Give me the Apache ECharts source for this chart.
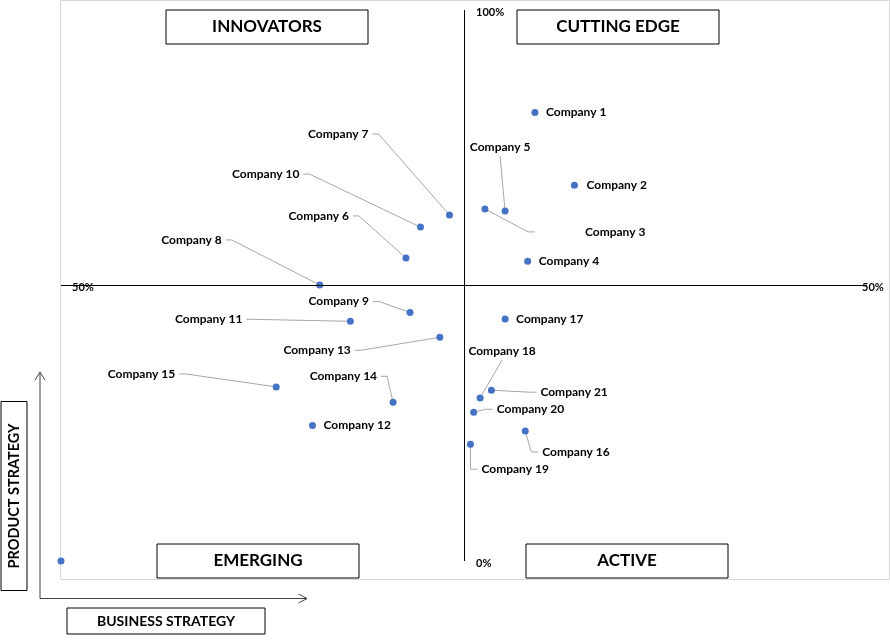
<!DOCTYPE html>
<html lang="en">
<head>
    <meta charset="UTF-8">
    <title>Company positioning quadrant</title>
    <script src="https://cdn.jsdelivr.net/npm/echarts@6/dist/echarts.min.js"></script>
    <style>
        html, body { margin: 0; padding: 0; background: #fff; }
        #chart { width: 890px; height: 641px; }
    </style>
</head>
<body>
    <div id="chart"></div>
    <script>
        // values (percent)
        const companies = [
            'Company 1', 'Company 2', 'Company 3', 'Company 4', 'Company 5', 'Company 6', 'Company 7',
            'Company 8', 'Company 9', 'Company 10', 'Company 11', 'Company 12', 'Company 13', 'Company 14',
            'Company 15', 'Company 16', 'Company 17', 'Company 18', 'Company 19', 'Company 20', 'Company 21', ''
        ];
        const businessStrategy = [58.8, 63.7, 52.6, 57.9, 55.1, 42.8, 48.2, 32.1, 43.3, 44.6, 35.9,
            31.2, 47.0, 41.2, 26.7, 57.6, 55.1, 52.0, 50.8, 51.2, 53.4, 0];
        const productStrategy = [81.4, 68.2, 63.9, 54.4, 63.5, 55.0, 62.8, 50.1, 45.1, 60.6, 43.5,
            24.6, 40.6, 28.8, 31.6, 23.6, 43.9, 29.6, 21.2, 27.0, 31.0, 0];
        const quadrants = ['INNOVATORS', 'CUTTING EDGE', 'EMERGING', 'ACTIVE'];
        const axisTicks = ['100%', '0%', '50%', '50%'];

        // label offset from its dot: dx, dy, align, leader line gap (0 = no leader line)
        const labelPlacement = [
            [11, 0, 'left', 0], [12, 0, 'left', 0], [100, 23, 'left', 50], [11, 0, 'left', 0],
            [-5, -64, 'center', 9], [-57, -42, 'right', 4], [-81, -81, 'right', 4],
            [-98, -45, 'right', 4], [-41, -11, 'right', 4], [-121, -53, 'right', 4],
            [-108, -2, 'right', 4], [11, 0, 'left', 0], [-89, 13, 'right', 4],
            [-16, -26, 'right', 4], [-101, -13, 'right', 4], [17, 21, 'left', 4],
            [11, 0, 'left', 0], [22, -47, 'center', 9], [11, 25, 'left', 4],
            [23, -3, 'left', 4], [49, 2, 'left', 4], null
        ];

        const chart = echarts.init(document.getElementById('chart'));
        const FONT = 'Lato';

        const points = companies.map((name, i) => ({
            name: name,
            value: [businessStrategy[i], productStrategy[i]],
            label: { show: !!labelPlacement[i] }
        }));
        const leaderData = companies.map((name, i) => [businessStrategy[i], productStrategy[i], i]);

        // leader line: dot -> short horizontal stub next to the label
        function leaderPoints(cx, cy, pl) {
            const lx = cx + pl[0], ly = cy + pl[1], gap = pl[3];
            if (pl[2] === 'right') return [[cx, cy], [lx + gap + 6, ly], [lx + gap, ly]];
            if (pl[2] === 'left') return [[cx, cy], [lx - gap - 7, ly], [lx - gap, ly]];
            const ey = pl[1] < 0 ? ly + gap : ly - gap;
            return [[cx, cy], [lx, ey]];
        }

        function box(x, y, w, h, text, size) {
            return {
                type: 'group', left: x, top: y,
                children: [
                    { type: 'rect', shape: { x: 0, y: 0, width: w, height: h }, style: { fill: '#fff', stroke: '#000', lineWidth: 1 } },
                    { type: 'text', x: w / 2, y: h / 2, style: { text: text, fill: '#000', font: 'bold ' + size + 'px ' + FONT, align: 'center', verticalAlign: 'middle' } }
                ]
            };
        }

        function tickText(x, y, text) {
            return { type: 'text', x: x, y: y, style: { text: text, fill: '#000', font: 'bold 11px ' + FONT, verticalAlign: 'middle' } };
        }

        const option = {
            animation: false,
            grid: { left: 61, right: 23, top: 10, bottom: 80 },
            xAxis: {
                type: 'value', min: 0, max: 100,
                axisLine: { show: false }, axisTick: { show: false }, axisLabel: { show: false }, splitLine: { show: false }
            },
            yAxis: {
                type: 'value', min: 0, max: 100,
                axisLine: { show: false }, axisTick: { show: false }, axisLabel: { show: false }, splitLine: { show: false }
            },
            graphic: [
                { type: 'rect', z: -1, shape: { x: 60.5, y: 0.5, width: 829, height: 579 }, style: { fill: 'none', stroke: '#d9d9d9', lineWidth: 1 } },
                box(165.5, 9.5, 202, 34, quadrants[0], 17),
                box(516.5, 9.5, 202, 34, quadrants[1], 17),
                box(156.5, 543.5, 202, 34, quadrants[2], 17),
                box(525.5, 543.5, 202, 34, quadrants[3], 17),
                tickText(476, 12, axisTicks[0]),
                tickText(476, 563, axisTicks[1]),
                tickText(72, 287, axisTicks[2]),
                tickText(862, 287, axisTicks[3]),
                // axis arrows
                { type: 'polyline', shape: { points: [[40, 372], [40, 598.5], [307, 598.5]] }, style: { stroke: '#404040', lineWidth: 1, fill: null } },
                { type: 'polyline', shape: { points: [[35, 380], [40, 372], [45, 380]] }, style: { stroke: '#404040', lineWidth: 1, fill: null } },
                { type: 'polyline', shape: { points: [[298.5, 594], [307, 598.5], [298.5, 603]] }, style: { stroke: '#404040', lineWidth: 1, fill: null } },
                // axis titles
                { type: 'rect', shape: { x: 1, y: 401.5, width: 26, height: 189 }, style: { fill: '#fff', stroke: '#000', lineWidth: 1 } },
                { type: 'text', x: 14, y: 496, rotation: Math.PI / 2, style: { text: 'PRODUCT STRATEGY', fill: '#000', font: 'bold 14.5px ' + FONT, align: 'center', verticalAlign: 'middle' } },
                box(66.5, 607.5, 198, 26, 'BUSINESS STRATEGY', 14)
            ],
            series: [{
                type: 'custom',
                silent: true,
                z: 1,
                data: leaderData,
                renderItem: function (params, api) {
                    const pl = labelPlacement[api.value(2)];
                    if (!pl || !pl[3]) return null;
                    const c = api.coord([api.value(0), api.value(1)]);
                    return {
                        type: 'polyline',
                        shape: { points: leaderPoints(c[0], c[1], pl) },
                        style: { stroke: '#a6a6a6', lineWidth: 1, fill: null }
                    };
                }
            }, {
                type: 'scatter',
                z: 3,
                symbolSize: 7,
                itemStyle: { color: '#4472c4', opacity: 1 },
                data: points,
                label: {
                    show: true,
                    position: 'right',
                    formatter: '{b}',
                    color: '#000',
                    fontFamily: FONT,
                    fontWeight: 'bold',
                    fontSize: 12
                },
                labelLayout: function (p) {
                    const pl = labelPlacement[p.dataIndex];
                    if (!pl) return {};
                    const cx = p.rect.x + p.rect.width / 2;
                    const cy = p.rect.y + p.rect.height / 2;
                    return { x: cx + pl[0], y: cy + pl[1], align: pl[2], verticalAlign: 'middle' };
                },
                markLine: {
                    silent: true,
                    symbol: 'none',
                    label: { show: false },
                    lineStyle: { color: '#000', width: 1, type: 'solid' },
                    data: [{ xAxis: 50 }, { yAxis: 50 }]
                }
            }]
        };
        chart.setOption(option);
    </script>
</body>
</html>
